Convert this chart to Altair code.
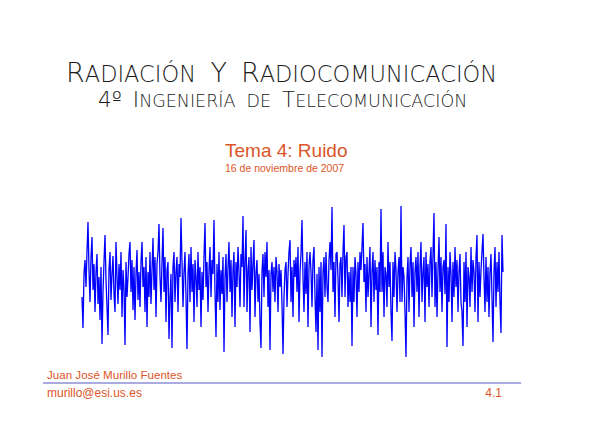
import altair as alt
import pandas as pd

# Noise trace amplitudes (positive = up), ~1 sample per pixel
noise = [
    -15, -46, 8, 22, -5, 30, 60, 12, -20, 25, 45, -8, 18, -30, 10, 28, -22, 5, -38, 15,
    -62, -10, 20, 47, 2, -25, -53, 12, 30, -18, 8, 26, -12, -30, 40, 6, -22, 18, -8, 30,
    -35, 12, -6, -63, 20, -15, 5, 28, 40, -10, 22, -28, 15, -38, 8, 32, -18, 10, -25, 20,
    40, -5, 15, -30, 25, -45, 10, -15, 30, -22, 12, 44, -8, 25, -35, 18, 30, 58, 5, -20,
    20, 54, -10, 25, -40, 12, 20, -57, -15, 8, -66, 15, 30, -20, 10, 25, -30, 18, 5, 64,
    20, -25, 10, 30, -15, -67, 8, 28, -20, 35, -10, 18, -40, 22, 5, -25, 30, -8, 15, -45,
    10, -18, 25, 59, -5, 20, -30, 12, 35, -15, 22, 8, 62, -10, -55, 18, -20, 30, -28, 12,
    -12, 25, -70, 5, 28, -20, 15, 40, -10, 22, -35, 12, 30, -45, 20, -5, 35, 10, -25, 28,
    15, 66, -25, 20, 52, -30, 12, 25, -50, 35, -8, 18, 42, -35, 10, 22, -20, 8, -40, -66,
    10, 28, -15, 30, 5, 40, -25, 12, -68, 8, 20, -10, 15, -20, 25, 10, -30, 18, -5, 12,
    -22, -72, -15, 12, 20, -25, 8, 30, 42, -20, 15, -35, 22, 5, 25, -10, 35, -40, 10, 28,
    62, 5, -30, 20, -12, 30, -45, 15, 30, 10, -25, 22, 35, -15, -50, 8, -68, 15, -30, 20,
    -75, 10, 25, -15, 30, -5, -20, 22, 40, 12, 75, -10, 20, -35, 28, 30, 5, -40, 18, 25,
    -15, 30, 57, -15, 25, 30, -25, 10, -20, 15, -64, 15, -20, 25, 8, -35, 20, -10, 30, 12,
    35, 59, 0, 18, -30, 25, -15, 10, 35, -45, 10, 30, -20, 22, -8, 15, -53, 20, -10, 73,
    -10, 30, -35, 15, 8, -25, 40, -5, 20, -30, -59, 20, -15, 30, 12, -30, 10, 25, -20, 76,
    -20, 15, 5, -30, -75, 5, 25, -30, 18, 35, -15, 20, -45, 10, 25, -10, 30, -35, 15, 40,
    -20, 10, 25, -40, 30, -5, 18, -25, 20, 35, -15, 28, 69, -25, 20, -35, 12, 45, -10, 25,
    -30, 15, 22, -12, 58, -65, 15, -20, 30, 8, -40, 20, -15, 35, -5, 22, -30, 10, 28, -20,
    -30, -64, 20, -20, 30, -45, 15, 5, -25, 35, -10, 22, 10, -30, 25, 47, -40, 20, -15, 12,
    30, 48, 5, -30, 25, -20, 15, -35, 10, 28, -15, -60, 10, 35, -25, 20, -10, 30, -20, -51,
    47, 10,
]
sample = list(range(len(noise)))

title1 = ["R", "ADIACIÓN", "Y", "R", "ADIOCOMUNICACIÓN"]
title2 = ["4º", "I", "NGENIERÍA", "DE", "T", "ELECOMUNICACIÓN"]
tema = "Tema 4: Ruido"
fecha = "16 de noviembre de 2007"
autor = "Juan José Murillo Fuentes"
email = "murillo@esi.us.es"
pagina = "4.1"

RED = "#DC5528"
DARK = "#1c1c1c"

# approximate DejaVu Sans advance widths (em) used to chain the small-caps pieces
ADV = {"A": .684, "C": .698, "D": .770, "E": .632, "G": .775, "I": .295, "L": .557,
       "M": .863, "N": .748, "O": .787, "R": .695, "T": .611, "U": .732, "Y": .611,
       "Ó": .787, "Í": .295, "4": .636, "º": .471}


def adv(s, size):
    return sum(ADV.get(c, .6) for c in s) * size


df = pd.DataFrame({"n": sample, "a": noise})

trace = alt.Chart(df).mark_line(color="#0000FF", strokeWidth=1.3).encode(
    x=alt.X("n:Q", axis=None, scale=alt.Scale(domain=[0, len(noise) - 1], range=[74, 495], nice=False, zero=False)),
    y=alt.Y("a:Q", axis=None, scale=alt.Scale(domain=[-80, 80], range=[354, 194], nice=False, zero=False)),
)


def txt(s, x, y, size, color, font="Liberation Sans", align="left", weight="normal"):
    return alt.Chart(alt.Data(values=[{"t": s}])).mark_text(
        x=x, y=y, fontSize=size, color=color, font=font, align=align,
        baseline="alphabetic", fontWeight=weight,
    ).encode(text="t:N")


F = "DejaVu Sans"
layers = [trace]

# line 1: small caps built from big/small pieces
B1, S1, G1 = 27, 22.5, 14
x = 58
for s, sz, gap in zip(title1, [B1, S1, B1, B1, S1], [0, G1, G1, 0, 0]):
    layers.append(txt(s, x, 74, sz, DARK, font=F, weight=300))
    x += adv(s, sz) + gap

# line 2
B2, S2, G2 = 21.5, 17.5, 11
x = 90
for s, sz, gap in zip(title2, [B2, B2, S2, S2, B2, S2], [G2, 0, G2, G2, 0, 0]):
    layers.append(txt(s, x, 99, sz, DARK, font=F, weight=300))
    x += adv(s, sz) + gap

layers.append(txt(tema, 217, 149, 19, RED))
layers.append(txt(fecha, 217, 164, 10.5, RED))
layers.append(txt(autor, 39, 371, 11.6, RED))
layers.append(txt(email, 39, 389, 12, RED))
layers.append(txt(pagina, 494, 389, 12, RED, align="right"))

rule = alt.Chart(alt.Data(values=[{"k": 1}])).mark_rule(color="#ABABE4", strokeWidth=2).encode(
    x=alt.value(35), x2=alt.value(513), y=alt.value(375)
)
layers.append(rule)

chart = alt.layer(*layers).properties(
    width=584, height=408, autosize="none", padding=0, background="white"
).configure_view(strokeWidth=0)

chart.save("out.html", embed_options={"renderer": "svg", "actions": False})
